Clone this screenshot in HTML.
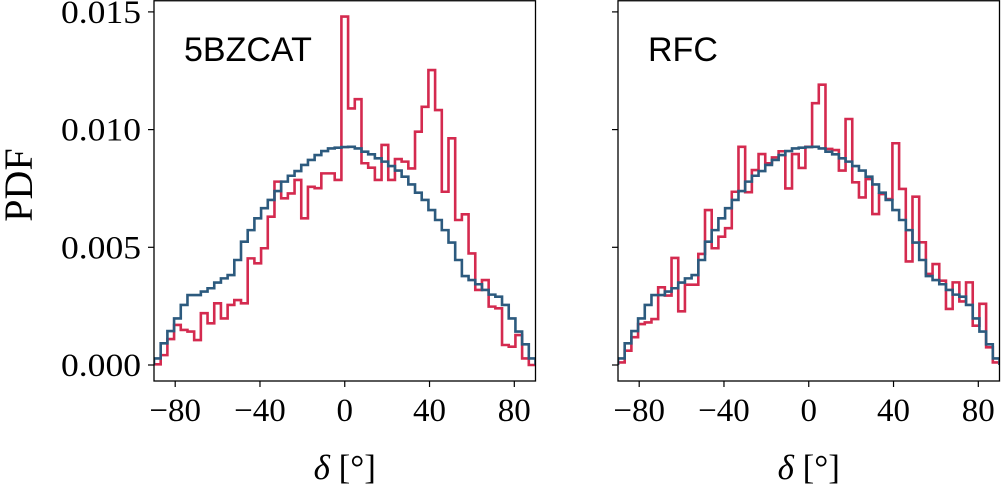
<!DOCTYPE html>
<html><head><meta charset="utf-8"><style>
body{margin:0;background:#fff;}
svg text{font-family:"Liberation Serif",serif;fill:#000;}
</style></head><body>
<svg id="chart" width="1001" height="494" viewBox="0 0 1001 494" xmlns="http://www.w3.org/2000/svg"></svg>
<script>
const xTicks = [-80, -40, 0, 40, 80];
const xTickLabels = ["\u221280", "\u221240", "0", "40", "80"];
const yTicks = [0, 0.005, 0.010, 0.015];
const yTickLabels = ["0.000", "0.005", "0.010", "0.015"];
const binMin = -90, binMax = 90;
const redLeft = [0.00003,0.00042,0.0011,0.0017,0.00149,0.00142,0.00106,0.0022,0.00177,0.00262,0.00198,0.00255,0.00276,0.00262,0.00453,0.00432,0.00496,0.0063,0.00779,0.00708,0.00729,0.00786,0.00623,0.00757,0.00751,0.00814,0.00814,0.00786,0.0148,0.0109,0.01129,0.00857,0.00838,0.00786,0.00935,0.00786,0.00875,0.00864,0.00835,0.00991,0.01097,0.01253,0.01083,0.00736,0.00963,0.00616,0.0064,0.00474,0.00319,0.00361,0.00248,0.00241,0.00085,0.00078,0.00127,0.00028,0.0];
const blueLeft = [0.00028,0.00092,0.00144,0.00198,0.00255,0.00297,0.00297,0.00312,0.00326,0.0035,0.00368,0.00382,0.00446,0.00524,0.00573,0.00623,0.00666,0.00701,0.00739,0.00779,0.00804,0.00824,0.0085,0.00871,0.00892,0.00909,0.0092,0.00923,0.00926,0.00927,0.0092,0.00906,0.00895,0.00878,0.00864,0.00845,0.00826,0.008,0.00767,0.00732,0.00701,0.00658,0.00616,0.00573,0.0052,0.00446,0.00378,0.00361,0.00343,0.00319,0.00299,0.0029,0.00255,0.00198,0.00142,0.00088,0.00028];
const redRight = [0.00011,0.00061,0.00118,0.00174,0.00181,0.00195,0.0033,0.00295,0.00455,0.00228,0.00341,0.00341,0.00472,0.00658,0.00496,0.00545,0.00581,0.00736,0.00927,0.00734,0.00828,0.00896,0.00857,0.00882,0.00908,0.0075,0.00896,0.00837,0.00927,0.01112,0.01191,0.00918,0.00913,0.00826,0.01045,0.00776,0.00712,0.0079,0.00641,0.00726,0.00705,0.00942,0.00748,0.0044,0.00715,0.00521,0.00387,0.00429,0.00358,0.00238,0.00351,0.0027,0.00351,0.00167,0.0026,0.00075,0.00011];
const blueRight = [0.00028,0.00092,0.00144,0.00198,0.00255,0.00297,0.00297,0.00312,0.00326,0.0035,0.00368,0.00382,0.00446,0.00524,0.00573,0.00623,0.00666,0.00701,0.00739,0.00779,0.00804,0.00824,0.0085,0.00871,0.00892,0.00909,0.0092,0.00923,0.00926,0.00927,0.0092,0.00906,0.00895,0.00878,0.00864,0.00845,0.00826,0.008,0.00767,0.00732,0.00701,0.00658,0.00616,0.00573,0.0052,0.00446,0.00378,0.00361,0.00343,0.00319,0.00299,0.0029,0.00255,0.00198,0.00142,0.00088,0.00028];

const svg = document.getElementById('chart');
const NS = 'http://www.w3.org/2000/svg';
function mk(tag, attrs, parent){const e=document.createElementNS(NS,tag);for(const k in attrs)e.setAttribute(k,attrs[k]);(parent||svg).appendChild(e);return e;}
function yScale(v){return 365 - v*23540;}
const panels = [
  {x0:154, x1:535.5, title:"5BZCAT", red:redLeft, blue:blueLeft, labels:true, name:'left-panel'},
  {x0:618, x1:999.5, title:"RFC", red:redRight, blue:blueRight, labels:false, name:'right-panel'}
];
panels.forEach(p=>{
  const g = mk('g',{});
  
  
  const xs = v => p.x0 + (v-binMin)/(binMax-binMin)*(p.x1-p.x0);
  const clip = mk('clipPath',{id:'c'+p.name},g);
  mk('rect',{x:p.x0,y:0,width:p.x1-p.x0,height:381},clip);
  const inner = mk('g',{'clip-path':'url(#c'+p.name+')'},g);
  [[p.red,'#d42a4f','red-histogram'],[p.blue,'#2c5a7e','blue-histogram']].forEach(s=>{
    const arr=s[0], n=arr.length, w=(binMax-binMin)/n;
    let d='M'+xs(binMin)+','+yScale(0);
    arr.forEach((v,i)=>{const yy=yScale(v);d+=' L'+xs(binMin+i*w)+','+yy+' L'+xs(binMin+(i+1)*w)+','+yy;});
    d+=' L'+xs(binMax)+','+yScale(0);
    const path=mk('path',{d:d,fill:'none',stroke:s[1],'stroke-width':2.6},inner);
    
    
  });
  const frame = mk('rect',{x:p.x0,y:0.75,width:p.x1-p.x0,height:380.25,fill:'none',stroke:'#000','stroke-width':1.3},g);
  
  
  xTicks.forEach((t,i)=>{
    const x=xs(t);
    mk('line',{x1:x,x2:x,y1:381,y2:387,stroke:'#000','stroke-width':1.2},g);
    const tx=mk('text',{x:x,y:421,'text-anchor':'middle','font-size':33},g);
    tx.textContent=xTickLabels[i];
    
    
  });
  yTicks.forEach((t,i)=>{
    const y=yScale(t);
    mk('line',{x1:p.x0-6,x2:p.x0,y1:y,y2:y,stroke:'#000','stroke-width':1.2},g);
    if(p.labels){
      const ty=mk('text',{x:p.x0-13,y:y+11,'text-anchor':'end','font-size':33,'textLength':80,'lengthAdjust':'spacingAndGlyphs'},g);
      ty.textContent=yTickLabels[i];
      
      
    }
  });
  const ti=mk('text',{x:p.x0+30,y:61,'font-size':34,style:'font-family:"Liberation Sans",sans-serif'},g);
  ti.textContent=p.title;
  
  
  const xl=mk('text',{x:(p.x0+p.x1)/2,y:479,'text-anchor':'middle','font-size':35},g);
  xl.innerHTML='<tspan font-style="italic">δ</tspan> [°]';
  
  
});
const yl=mk('text',{x:0,y:0,'text-anchor':'middle','font-size':40,transform:'translate(32,185) rotate(-90)'});
yl.textContent='PDF';


</script>
</body></html>
